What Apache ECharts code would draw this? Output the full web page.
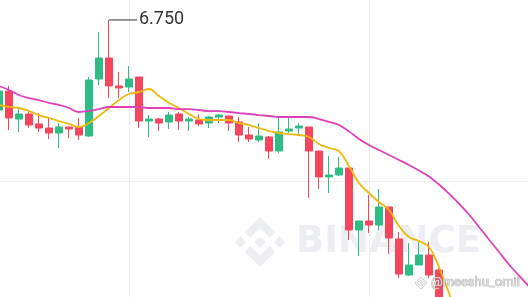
<!DOCTYPE html>
<html><head><meta charset="utf-8">
<script src="https://cdn.jsdelivr.net/npm/echarts@6/dist/echarts.min.js"></script>
<style>html,body{margin:0;padding:0;background:#fff;overflow:hidden}#c{width:528px;height:297px}</style>
</head><body><div id="c"></div>
<script>
const categories = ['01','02','03','04','05','06','07','08','09','10','11','12','13','14','15','16','17','18','19','20','21','22','23','24','25','26','27','28','29','30','31','32','33','34','35','36','37','38','39','40','41','42','43','44','45','46','47','48','49','50','51','52','53','54'];
const openP  = [6.6102,6.6397,6.5962,6.6040,6.5885,6.5822,6.5745,6.5838,6.5838,6.5698,6.6583,6.6909,6.6475,6.6459,6.6614,6.5931,6.5962,6.5916,6.6040,6.5931,6.5947,6.5900,6.5993,6.6009,6.5916,6.5714,6.5636,6.5683,6.5465,6.5776,6.5822,6.5838,6.5465,6.5062,6.5093,6.5201,6.4239,6.4378,6.4316,6.4596,6.4099,6.3540,6.3695,6.3850,6.3617];
const closeP = [6.6397,6.5978,6.6040,6.5869,6.5822,6.5745,6.5838,6.5807,6.5714,6.6568,6.6909,6.6475,6.6444,6.6583,6.5931,6.5962,6.5900,6.6024,6.5931,6.5962,6.5885,6.5993,6.6024,6.5900,6.5714,6.5652,6.5698,6.5465,6.5760,6.5807,6.5853,6.5465,6.5062,6.5093,6.5201,6.4239,6.4378,6.4316,6.4596,6.4114,6.3555,6.3695,6.3850,6.3540,6.2996];
const lowP   = [6.6071,6.5791,6.5760,6.5822,6.5760,6.5652,6.5512,6.5667,6.5636,6.5683,6.6490,6.6288,6.6288,6.6381,6.5822,6.5683,6.5776,6.5807,6.5791,6.5776,6.5853,6.5822,6.5900,6.5776,6.5605,6.5605,6.5605,6.5341,6.5434,6.5745,6.5714,6.4735,6.4875,6.4813,6.5077,6.4083,6.3835,6.4192,6.4239,6.3866,6.3493,6.3524,6.3695,6.3493,6.2872];
const highP  = [6.6428,6.6475,6.6133,6.6102,6.6055,6.5978,6.5900,6.5838,6.5978,6.6614,6.7313,6.7500,6.6692,6.6785,6.6614,6.6024,6.5978,6.6071,6.6071,6.5993,6.6040,6.6009,6.6040,6.6024,6.5993,6.5838,6.5900,6.5698,6.5978,6.5978,6.5900,6.5838,6.5465,6.5388,6.5372,6.5201,6.4378,6.4782,6.4875,6.4596,6.4208,6.4037,6.4052,6.4052,6.3649];
const maFast = [6.6180,6.6149,6.6133,6.6086,6.6024,6.5978,6.5931,6.5885,6.5838,6.5900,6.6009,6.6133,6.6257,6.6350,6.6381,6.6428,6.6319,6.6211,6.6133,6.6040,6.5962,6.5947,6.5947,6.5947,6.5900,6.5869,6.5822,6.5776,6.5745,6.5729,6.5714,6.5683,6.5574,6.5512,6.5465,6.5232,6.4968,6.4813,6.4673,6.4549,6.4301,6.4130,6.4068,6.3975,6.3664,6.3260,6.2841];
const maSlow = [6.6475,6.6412,6.6335,6.6288,6.6257,6.6211,6.6180,6.6133,6.6071,6.6086,6.6117,6.6149,6.6149,6.6149,6.6149,6.6133,6.6133,6.6133,6.6117,6.6117,6.6102,6.6086,6.6086,6.6071,6.6055,6.6040,6.6024,6.6009,6.5993,6.5993,6.5993,6.5993,6.5962,6.5916,6.5869,6.5770,6.5652,6.5559,6.5481,6.5403,6.5326,6.5248,6.5162,6.5070,6.4945,6.4805,6.4650,6.4480,6.4286,6.4091,6.3897,6.3703,6.3532,6.3361];
const gridPriceStep = 0.5;
const gridCandleIdx = [13, 37];

const candles = categories.map((c, i) => i < openP.length ? [openP[i], closeP[i], lowP[i], highP[i]] : '-');

const logoPolys = [
  [[38.73,53.2],[63.3,28.62],[87.9,53.22],[102.2,38.91],[63.3,0],[24.42,38.9]],
  [[0,63.31],[14.3,49],[28.61,63.31],[14.3,77.61]],
  [[38.73,73.41],[63.3,97.99],[87.9,73.39],[102.21,87.68],[63.31,126.59],[24.41,87.71]],
  [[98,63.31],[112.3,49],[126.61,63.3],[112.3,77.62]],
  [[77.83,63.3],[63.32,48.78],[48.81,63.3],[63.32,77.82]]
];
function logo(x, y, size, style, z) {
  const s = size / 126.61;
  return {type: 'group', x: x, y: y, scaleX: s, scaleY: s, z: z,
    children: logoPolys.map(p => ({type: 'polygon', z: z, shape: {points: p}, style: Object.assign({}, style)}))};
}

const chart = echarts.init(document.getElementById('c'), null, {renderer: 'canvas'});
chart.setOption({
  animation: false,
  backgroundColor: '#ffffff',
  grid: {left: -1, right: -1, top: 0, bottom: -206, containLabel: false, outerBoundsMode: 'none'},
  xAxis: {
    type: 'category', data: categories, boundaryGap: false,
    axisLine: {show: false}, axisTick: {show: false}, axisLabel: {show: false},
    splitLine: {show: true, interval: (i) => gridCandleIdx.includes(i), lineStyle: {color: '#eeeeee', width: 1}}
  },
  yAxis: {
    type: 'value', min: 6.0, max: 6.781, interval: gridPriceStep,
    axisLine: {show: false}, axisTick: {show: false}, axisLabel: {show: false},
    splitLine: {show: true, showMinLine: false, showMaxLine: false, lineStyle: {color: '#eeeeee', width: 1}}
  },
  graphic: [
    logo(235, 217, 50, {fill: '#eceef1'}, 0),
    {type: 'text', z: 0, x: 296, y: 242, style: {text: 'BINANCE', font: 'bold 37px "DejaVu Sans"', fill: '#eceef1', textVerticalAlign: 'middle'}},
    logo(415, 277, 12, {fill: '#ffffff', stroke: '#c0c0c0', lineWidth: 8}, 100),
    {type: 'text', z: 100, x: 431, y: 283, style: {text: '@meeshu_omii', font: '13px Roboto', fill: '#dcdcdc', stroke: '#a0a0a0', lineWidth: 0.7, textVerticalAlign: 'middle'}}
  ],
  series: [
    {
      type: 'candlestick', data: candles, barWidth: 7, clip: false, z: 2,
      itemStyle: {color: '#2ebd85', color0: '#f6465d', borderColor: '#2ebd85', borderColor0: '#f6465d', borderWidth: 1},
      markPoint: {
        silent: true,
        symbol: 'rect', symbolSize: [28, 1], symbolOffset: [14, 0],
        itemStyle: {color: '#333333'},
        label: {show: true, position: 'right', distance: 2, fontSize: 18, fontFamily: 'Roboto', color: '#333333',
          formatter: (p) => p.value.toFixed(3)},
        data: [{type: 'max', valueDim: 'highest'}]
      }
    },
    {type: 'line', data: maFast, showSymbol: false, smooth: 0.4, z: 3, lineStyle: {color: '#f0b90b', width: 1.8}, itemStyle: {color: '#f0b90b'}},
    {type: 'line', data: maSlow, showSymbol: false, smooth: 0.4, z: 3, lineStyle: {color: '#e040b8', width: 1.8}, itemStyle: {color: '#e040b8'}}
  ]
});
</script></body></html>
